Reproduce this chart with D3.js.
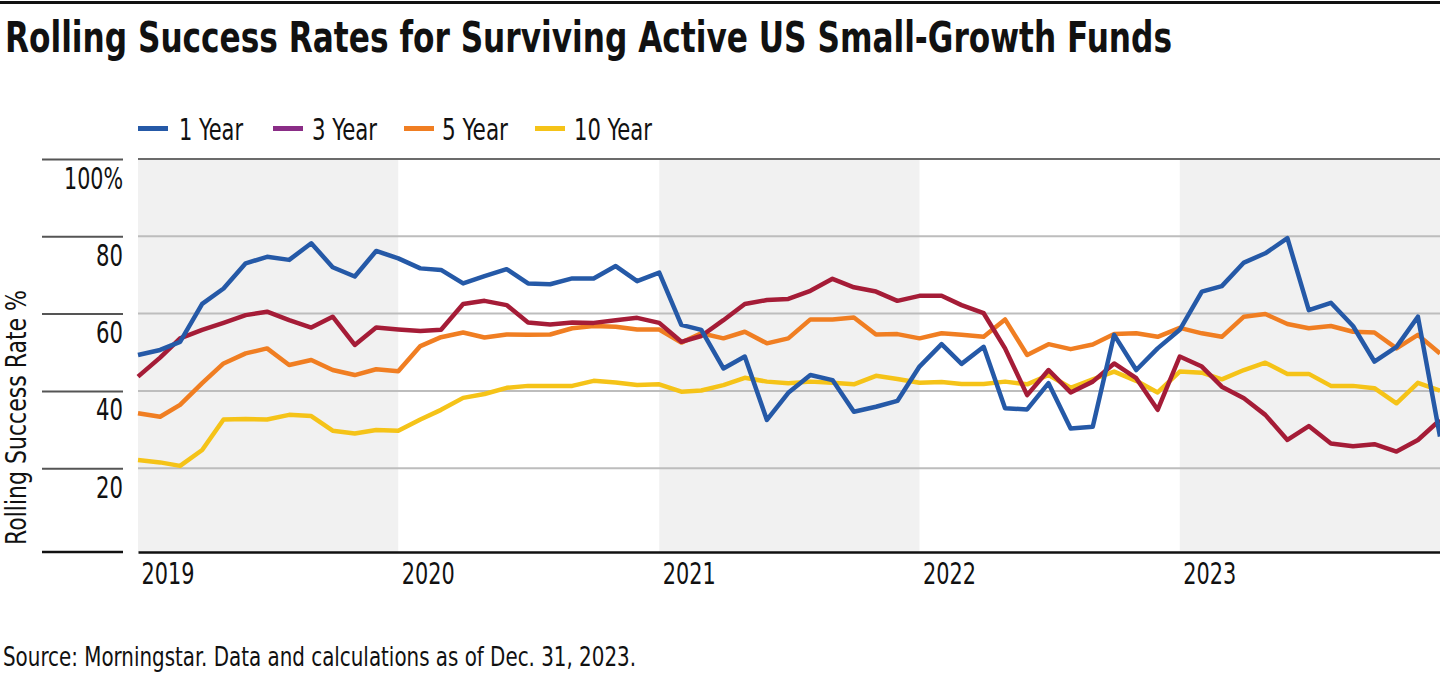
<!DOCTYPE html>
<html>
<head>
<meta charset="utf-8">
<script src="https://cdn.jsdelivr.net/npm/d3@7"></script>
<style>
  body { margin: 0; background: #fff; }
  svg text { font-family: "Liberation Sans Narrow", "DejaVu Sans Condensed", "Roboto", sans-serif; fill: #111; }
</style>
</head>
<body>
<svg width="1440" height="700"></svg>
<script>
var svg = d3.select('svg');

// monthly points, Jan 2019 .. Jan 2024
var firstMonth = new Date(2019, 0, 1);
var years = [2019, 2020, 2021, 2022, 2023];
var shadedYears = [2019, 2021, 2023];
var yTicks = [20, 40, 60, 80, 100];

var seriesNames = ['1 Year', '3 Year', '5 Year', '10 Year'];

var oneYear = [49.3, 50.6, 52.7, 62.5, 66.5, 73.0, 74.7, 73.9, 78.2, 72.0, 69.6, 76.2,
  74.3, 71.7, 71.3, 67.8, 69.7, 71.5, 67.8, 67.6, 69.1, 69.1, 72.3, 68.4,
  70.6, 57.1, 55.8, 45.8, 48.9, 32.5, 39.5, 44.1, 42.8, 34.6, 35.9, 37.4,
  46.3, 52.1, 47.0, 51.4, 35.5, 35.2, 42.0, 30.3, 30.7, 54.5, 45.4, 51.0,
  55.8, 65.7, 67.1, 73.2, 75.6, 79.5, 60.9, 62.8, 56.8, 47.6, 51.4, 59.2,
  28.2];

var threeYear = [43.7, 48.6, 53.6, 55.8, 57.6, 59.6, 60.5, 58.3, 56.4, 59.2, 51.9, 56.4,
  55.9, 55.5, 55.8, 62.5, 63.3, 62.2, 57.7, 57.2, 57.7, 57.6, 58.3, 58.9,
  57.6, 52.7, 54.2, 58.3, 62.5, 63.5, 63.8, 65.9, 69.0, 66.8, 65.7, 63.3,
  64.6, 64.6, 62.2, 60.1, 51.0, 38.9, 45.4, 39.6, 42.4, 47.1, 43.3, 35.1,
  48.9, 46.3, 41.1, 38.1, 33.8, 27.3, 30.9, 26.4, 25.7, 26.2, 24.3, 27.3,
  32.5];

var fiveYear = [34.2, 33.3, 36.4, 42.0, 47.1, 49.7, 51.0, 46.7, 48.0, 45.4, 44.1, 45.6,
  45.1, 51.6, 53.9, 55.1, 53.8, 54.6, 54.5, 54.6, 56.2, 56.8, 56.6, 55.9,
  55.9, 52.5, 54.9, 53.6, 55.3, 52.3, 53.6, 58.5, 58.5, 59.0, 54.6, 54.7,
  53.6, 54.9, 54.5, 54.0, 58.5, 49.3, 52.1, 50.8, 52.0, 54.7, 54.9, 54.0,
  56.3, 54.9, 54.0, 59.2, 59.9, 57.3, 56.2, 56.8, 55.3, 55.1, 51.0, 54.5,
  49.7];

var tenYear = [22.1, 21.5, 20.6, 24.7, 32.6, 32.7, 32.6, 33.8, 33.5, 29.7, 29.0, 29.9,
  29.7, 32.6, 35.1, 38.2, 39.2, 40.8, 41.3, 41.3, 41.3, 42.6, 42.2, 41.5,
  41.7, 39.8, 40.1, 41.5, 43.4, 42.4, 42.0, 42.4, 42.1, 41.7, 43.9, 43.1,
  42.1, 42.3, 41.8, 41.8, 42.4, 41.7, 44.1, 40.8, 43.0, 45.0, 42.6, 39.6,
  45.0, 44.7, 43.0, 45.4, 47.3, 44.4, 44.4, 41.3, 41.3, 40.7, 36.8, 42.1,
  40.1];

var lineColors = ['#2559a7', '#a51c37', '#f07e22', '#f5c318'];
var legendColors = ['#2559a7', '#8a2d86', '#f07e22', '#f5c318'];

var months = oneYear.map(function(d, i) { return d3.timeMonth.offset(firstMonth, i); });

var plotLeft = 138, plotRight = 1440, plotTop = 159, plotBottom = 552;

var x = d3.scaleTime()
    .domain([firstMonth, new Date(2024, 0, 1)])
    .range([plotLeft, plotRight]);

var y = d3.scaleLinear()
    .domain([0, 100])
    .range([545.5, plotTop]);

// top border
svg.append('line')
    .attr('x1', 0).attr('x2', 1440).attr('y1', 2.5).attr('y2', 2.5)
    .attr('stroke', '#111').attr('stroke-width', 3);

// title
svg.append('text')
    .attr('x', 5).attr('y', 52)
    .attr('font-size', 42).attr('font-weight', 'bold')
    .attr('textLength', 1167).attr('lengthAdjust', 'spacingAndGlyphs')
    .text('Rolling Success Rates for Surviving Active US Small-Growth Funds');

// legend
var legendSwatchX = [138, 273, 404, 535];
var legendTextX = [179, 312, 442, 574];
var legendTextW = [64, 65, 66, 78];
var legend = svg.selectAll('.legend')
    .data(seriesNames)
    .enter()
    .append('g')
    .attr('class', 'legend');
legend.append('rect')
    .attr('x', function(d, i) { return legendSwatchX[i]; })
    .attr('y', 126)
    .attr('width', 30).attr('height', 5)
    .attr('fill', function(d, i) { return legendColors[i]; });
legend.append('text')
    .attr('x', function(d, i) { return legendTextX[i]; })
    .attr('y', 140)
    .attr('font-size', 31)
    .attr('textLength', function(d, i) { return legendTextW[i]; })
    .attr('lengthAdjust', 'spacingAndGlyphs')
    .text(function(d) { return d; });

// shaded year bands
svg.selectAll('.band')
    .data(shadedYears)
    .enter()
    .append('rect')
    .attr('class', 'band')
    .attr('x', function(d) { return x(new Date(d, 0, 1)); })
    .attr('y', plotTop)
    .attr('width', function(d) { return x(new Date(d + 1, 0, 1)) - x(new Date(d, 0, 1)); })
    .attr('height', plotBottom - plotTop)
    .attr('fill', '#f1f1f1');

// gridlines inside plot
svg.selectAll('.grid')
    .data(yTicks)
    .enter()
    .append('line')
    .attr('class', 'grid')
    .attr('x1', plotLeft).attr('x2', plotRight)
    .attr('y1', function(d) { return y(d); })
    .attr('y2', function(d) { return y(d); })
    .attr('stroke', function(d) { return d === 100 ? '#6b6b6b' : '#bdbdbd'; })
    .attr('stroke-width', 2);

// y axis: short dark ticks at left with labels under them
var yAxis = svg.append('g')
    .attr('transform', 'translate(123,0)')
    .call(d3.axisLeft(y).tickValues(yTicks).tickSize(81)
        .tickFormat(function(d) { return d === 100 ? '100%' : d; }));
yAxis.select('.domain').remove();
yAxis.selectAll('line').attr('stroke', '#555').attr('stroke-width', 2);
yAxis.selectAll('text')
    .attr('x', 0).attr('dy', 29)
    .attr('font-size', 30)
    .attr('fill', '#111')
    .attr('text-anchor', 'end')
    .attr('textLength', function(d) { return d === 100 ? 59 : 27; })
    .attr('lengthAdjust', 'spacingAndGlyphs');

// bottom axis tick on the left
svg.append('line')
    .attr('x1', 42).attr('x2', 123).attr('y1', plotBottom).attr('y2', plotBottom)
    .attr('stroke', '#111').attr('stroke-width', 2.5);

// y axis title
svg.append('text')
    .attr('transform', 'translate(26,545) rotate(-90)')
    .attr('font-size', 28)
    .attr('textLength', 255).attr('lengthAdjust', 'spacingAndGlyphs')
    .text('Rolling Success Rate %');

// lines
var seriesValues = [oneYear, threeYear, fiveYear, tenYear];
var line = d3.line()
    .x(function(d, i) { return x(months[i]); })
    .y(function(d) { return y(d); });

var drawOrder = [3, 2, 1, 0];
svg.selectAll('.series')
    .data(drawOrder)
    .enter()
    .append('path')
    .attr('class', 'series')
    .attr('d', function(k) { return line(seriesValues[k]); })
    .attr('fill', 'none')
    .attr('stroke', function(k) { return lineColors[k]; })
    .attr('stroke-width', 4.5)
    .attr('stroke-linejoin', 'round');

// x axis
var xAxis = svg.append('g')
    .attr('transform', 'translate(0,' + plotBottom + ')')
    .call(d3.axisBottom(x)
        .tickValues(years.map(function(d) { return new Date(d, 0, 1); }))
        .tickFormat(d3.timeFormat('%Y'))
        .tickSize(0).tickSizeOuter(0));
xAxis.select('.domain').attr('stroke', '#111').attr('stroke-width', 2.5);
xAxis.selectAll('text')
    .attr('text-anchor', 'start')
    .attr('dx', 3).attr('dy', 0).attr('y', 32)
    .attr('font-size', 30)
    .attr('fill', '#111')
    .attr('textLength', 53)
    .attr('lengthAdjust', 'spacingAndGlyphs');

// source note
svg.append('text')
    .attr('x', 3).attr('y', 666)
    .attr('font-size', 27)
    .attr('textLength', 633).attr('lengthAdjust', 'spacingAndGlyphs')
    .text('Source: Morningstar. Data and calculations as of Dec. 31, 2023.');
</script>
</body>
</html>
